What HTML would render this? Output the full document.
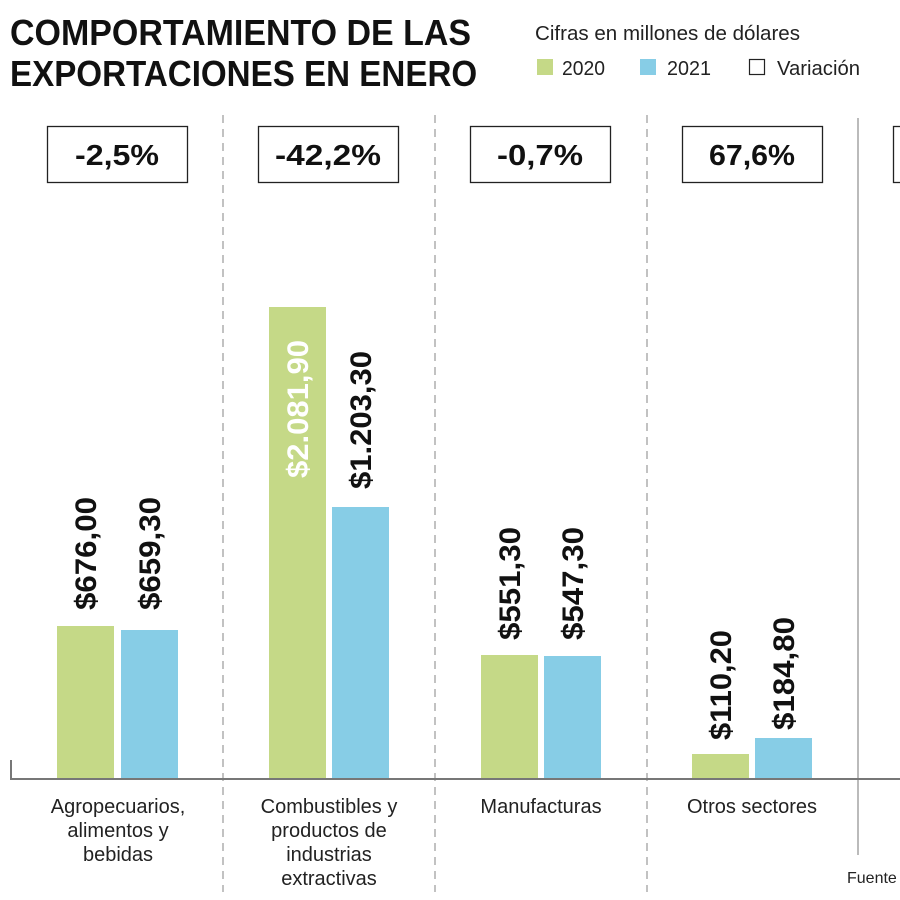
<!DOCTYPE html>
<html><head><meta charset="utf-8"><style>
html,body{margin:0;padding:0;background:#fff;}
svg{display:block;font-family:"Liberation Sans",sans-serif;}
</style></head><body>
<svg width="900" height="900" viewBox="0 0 900 900" xmlns="http://www.w3.org/2000/svg">
<g font-weight="bold" fill="#111" font-size="36">
<text x="10" y="45" transform="translate(10 0) scale(0.87 1) translate(-10 0)" textLength="530" lengthAdjust="spacingAndGlyphs">COMPORTAMIENTO DE LAS</text>
<text x="10" y="86" transform="translate(10 0) scale(0.87 1) translate(-10 0)" textLength="537" lengthAdjust="spacingAndGlyphs">EXPORTACIONES EN ENERO</text>
</g>
<g font-size="20" fill="#222">
<text x="535" y="40" textLength="265" lengthAdjust="spacingAndGlyphs">Cifras en millones de dólares</text>
<rect x="537" y="59" width="16" height="16" fill="#c5d987"/>
<text x="562" y="75" textLength="43" lengthAdjust="spacingAndGlyphs">2020</text>
<rect x="640" y="59" width="16" height="16" fill="#87cde6"/>
<text x="667" y="75" textLength="44" lengthAdjust="spacingAndGlyphs">2021</text>
<rect x="749.5" y="59.5" width="15" height="15" fill="none" stroke="#222" stroke-width="1.2"/>
<text x="777" y="75" textLength="83" lengthAdjust="spacingAndGlyphs">Variación</text>
</g>
<g stroke="#999" stroke-width="1.2" stroke-dasharray="8,6">
<line x1="223" y1="115" x2="223" y2="892"/>
<line x1="435" y1="115" x2="435" y2="892"/>
<line x1="647" y1="115" x2="647" y2="892"/>
</g>
<line x1="858" y1="118" x2="858" y2="855" stroke="#bbb" stroke-width="2"/>
<g fill="#fff" stroke="#222" stroke-width="1.3">
<rect x="47.5" y="126.5" width="140" height="56"/>
<rect x="258.5" y="126.5" width="140" height="56"/>
<rect x="470.5" y="126.5" width="140" height="56"/>
<rect x="682.5" y="126.5" width="140" height="56"/>
<rect x="893.5" y="126.5" width="40" height="56"/>
</g>
<g font-size="29" font-weight="bold" fill="#111" text-anchor="middle">
<text x="117" y="165" textLength="84" lengthAdjust="spacingAndGlyphs">-2,5%</text>
<text x="328" y="165" textLength="106" lengthAdjust="spacingAndGlyphs">-42,2%</text>
<text x="540" y="165" textLength="86" lengthAdjust="spacingAndGlyphs">-0,7%</text>
<text x="752" y="165" textLength="86" lengthAdjust="spacingAndGlyphs">67,6%</text>
</g>
<g fill="#c5d987">
<rect x="57" y="626" width="57" height="153"/>
<rect x="269" y="307" width="57" height="472"/>
<rect x="481" y="655" width="57" height="124"/>
<rect x="692" y="754" width="57" height="25"/>
</g>
<g fill="#87cde6">
<rect x="121" y="630" width="57" height="149"/>
<rect x="332" y="507" width="57" height="272"/>
<rect x="544" y="656" width="57" height="123"/>
<rect x="755" y="738" width="57" height="41"/>
</g>
<line x1="10" y1="779" x2="900" y2="779" stroke="#777" stroke-width="2"/>
<line x1="11" y1="760" x2="11" y2="779" stroke="#777" stroke-width="2"/>
<g font-size="30" font-weight="bold" fill="#111">
<text transform="translate(96 610) rotate(-90)" textLength="113" lengthAdjust="spacingAndGlyphs">$676,00</text>
<text transform="translate(160 610) rotate(-90)" textLength="113" lengthAdjust="spacingAndGlyphs">$659,30</text>
<text transform="translate(308 478) rotate(-90)" fill="#fff" textLength="138" lengthAdjust="spacingAndGlyphs">$2.081,90</text>
<text transform="translate(371 489) rotate(-90)" textLength="138" lengthAdjust="spacingAndGlyphs">$1.203,30</text>
<text transform="translate(520 640) rotate(-90)" textLength="113" lengthAdjust="spacingAndGlyphs">$551,30</text>
<text transform="translate(583 640) rotate(-90)" textLength="113" lengthAdjust="spacingAndGlyphs">$547,30</text>
<text transform="translate(731 740) rotate(-90)" textLength="110" lengthAdjust="spacingAndGlyphs">$110,20</text>
<text transform="translate(794 730) rotate(-90)" textLength="113" lengthAdjust="spacingAndGlyphs">$184,80</text>
</g>
<g font-size="20" fill="#222" text-anchor="middle">
<text x="118" y="813">Agropecuarios,</text>
<text x="118" y="837">alimentos y</text>
<text x="118" y="861">bebidas</text>
<text x="329" y="813">Combustibles y</text>
<text x="329" y="837">productos de</text>
<text x="329" y="861">industrias</text>
<text x="329" y="885">extractivas</text>
<text x="541" y="813">Manufacturas</text>
<text x="752" y="813">Otros sectores</text>
</g>
<text x="847" y="883" font-size="16" fill="#222">Fuente</text>
</svg>
</body></html>
